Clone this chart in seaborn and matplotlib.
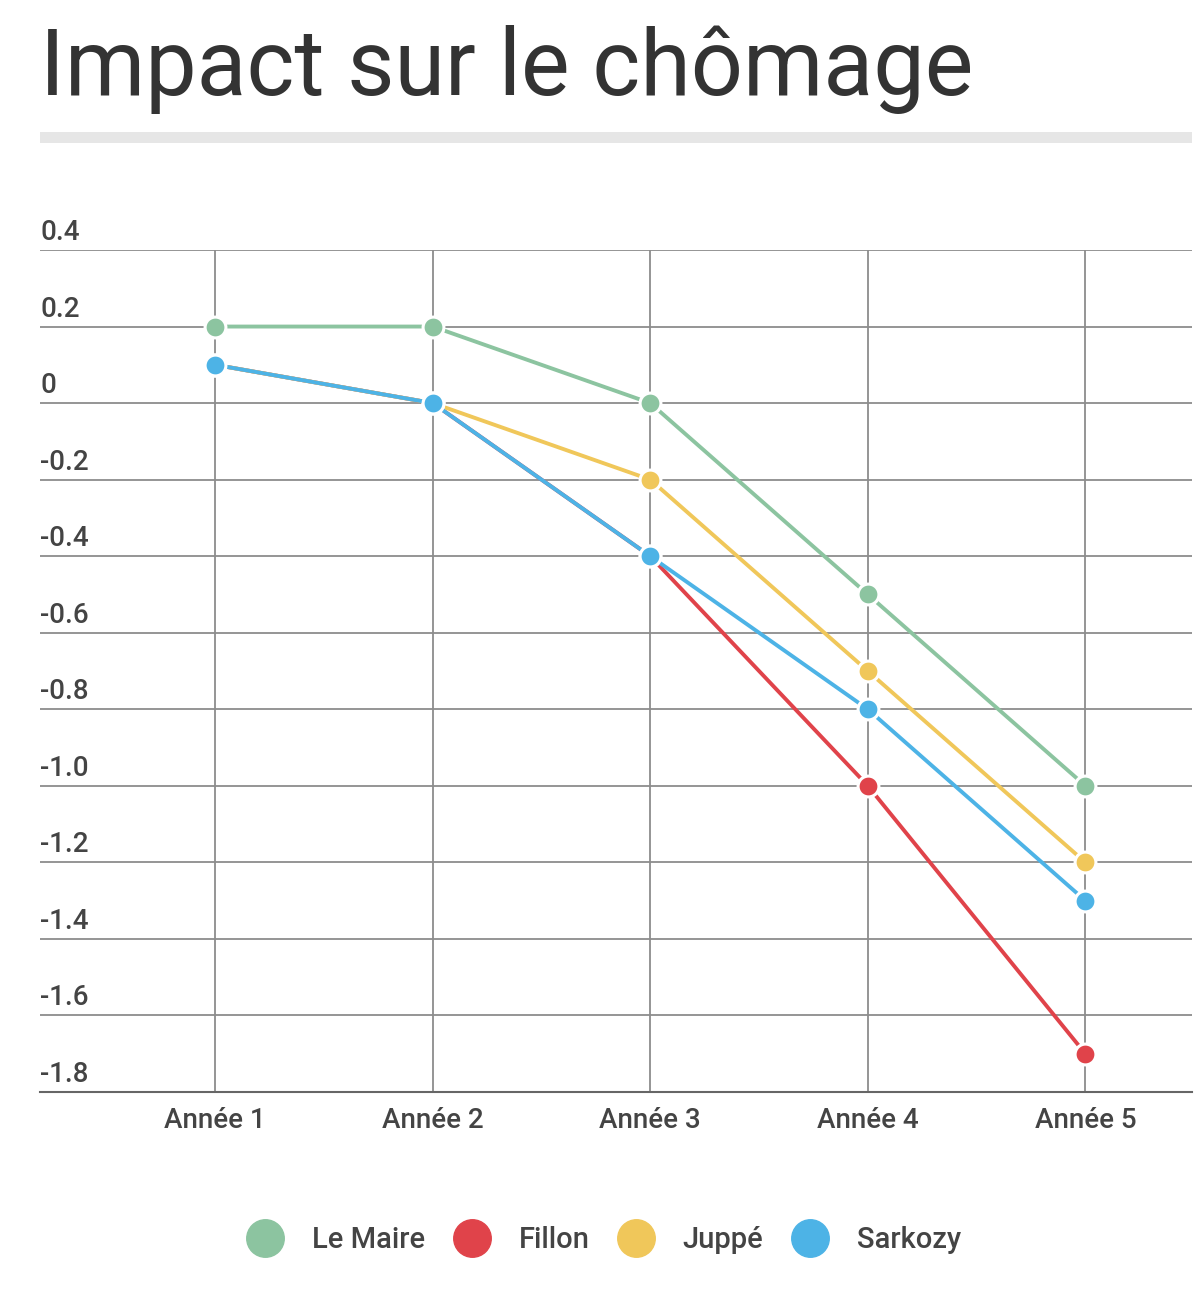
import numpy as np
import pandas as pd
import seaborn as sns
import matplotlib.pyplot as plt
from matplotlib.lines import Line2D
from matplotlib.transforms import offset_copy

years = ["Année 1", "Année 2", "Année 3", "Année 4", "Année 5"]
candidates = ["Le Maire", "Fillon", "Juppé", "Sarkozy"]
le_maire = [0.2, 0.2, 0.0, -0.5, -1.0]
fillon = [0.1, 0.0, -0.4, -1.0, -1.7]
juppe = [0.1, 0.0, -0.2, -0.7, -1.2]
sarkozy = [0.1, 0.0, -0.4, -0.8, -1.3]
y_ticks = [0.4, 0.2, 0, -0.2, -0.4, -0.6, -0.8, -1.0, -1.2, -1.4, -1.6, -1.8]
y_tick_labels = ["0.4", "0.2", "0", "-0.2", "-0.4", "-0.6", "-0.8", "-1.0",
                 "-1.2", "-1.4", "-1.6", "-1.8"]
colors = ["#8cc4a0", "#e0434a", "#f0c75a", "#4db3e6"]

series = [le_maire, fillon, juppe, sarkozy]
rows = []
for name, vals in zip(candidates, series):
    for i, v in enumerate(vals):
        rows.append({"x": i, "year": years[i], "candidat": name, "valeur": v})
df = pd.DataFrame(rows)

sns.set_theme(style="white")
plt.rcParams["font.family"] = ["Roboto", "DejaVu Sans"]

fig = plt.figure(figsize=(12, 12.99), dpi=100)
ax = fig.add_axes([40 / 1200, 1 - 1092 / 1299, 1152 / 1200, 842 / 1299])

grid_col = "#8c8c8c"
for v in y_ticks:
    ax.axhline(v, color=grid_col, lw=1.3, zorder=0)
for i in range(len(years)):
    ax.axvline(i, color=grid_col, lw=1.3, zorder=0)

sns.lineplot(data=df, x="x", y="valeur", hue="candidat", hue_order=candidates,
             palette=colors, marker="o", markersize=15, markeredgecolor="white",
             markeredgewidth=2.2, linewidth=2.8, legend=False, ax=ax, zorder=3)

ax.set_xlim(-0.805, 4.49)
ax.set_ylim(-1.8, 0.4)
ax.set_xticks(range(len(years)))
ax.set_xticklabels(years, fontsize=20, color="#444444", fontweight="medium")
ax.set_yticks([])
ax.tick_params(axis="x", length=0, pad=11)
ax.set_xlabel("")
ax.set_ylabel("")
for s in ["top", "right", "left"]:
    ax.spines[s].set_visible(False)
ax.spines["bottom"].set_color("#666666")
ax.spines["bottom"].set_linewidth(1.5)

trans = offset_copy(ax.get_yaxis_transform(), fig=fig, x=0, y=10, units="dots")
for v, lab in zip(y_ticks, y_tick_labels):
    ax.text(0, v, lab, transform=trans, ha="left", va="baseline",
            fontsize=20, color="#444444", fontweight="medium")

fig.text(40 / 1200, 1 - 95 / 1299, "Impact sur le chômage", fontsize=66,
         color="#333333", ha="left", va="baseline")
fig.patches.append(plt.Rectangle((40 / 1200, 1 - 143 / 1299), 1152 / 1200, 11 / 1299,
                                 transform=fig.transFigure, color="#e6e6e6", lw=0))

handles = [Line2D([], [], ls="none", marker="o", markersize=27, color=c,
                  markeredgecolor=c) for c in colors]
leg = fig.legend(handles, candidates, loc="center", bbox_to_anchor=(0.503, 1 - 1240 / 1299),
                 ncol=4, frameon=False, fontsize=21, handletextpad=0.95, columnspacing=0.95,
                 handlelength=1.3, labelcolor="#444444")
for t in leg.get_texts():
    t.set_fontweight("medium")

plt.savefig("out.png", dpi=100)
